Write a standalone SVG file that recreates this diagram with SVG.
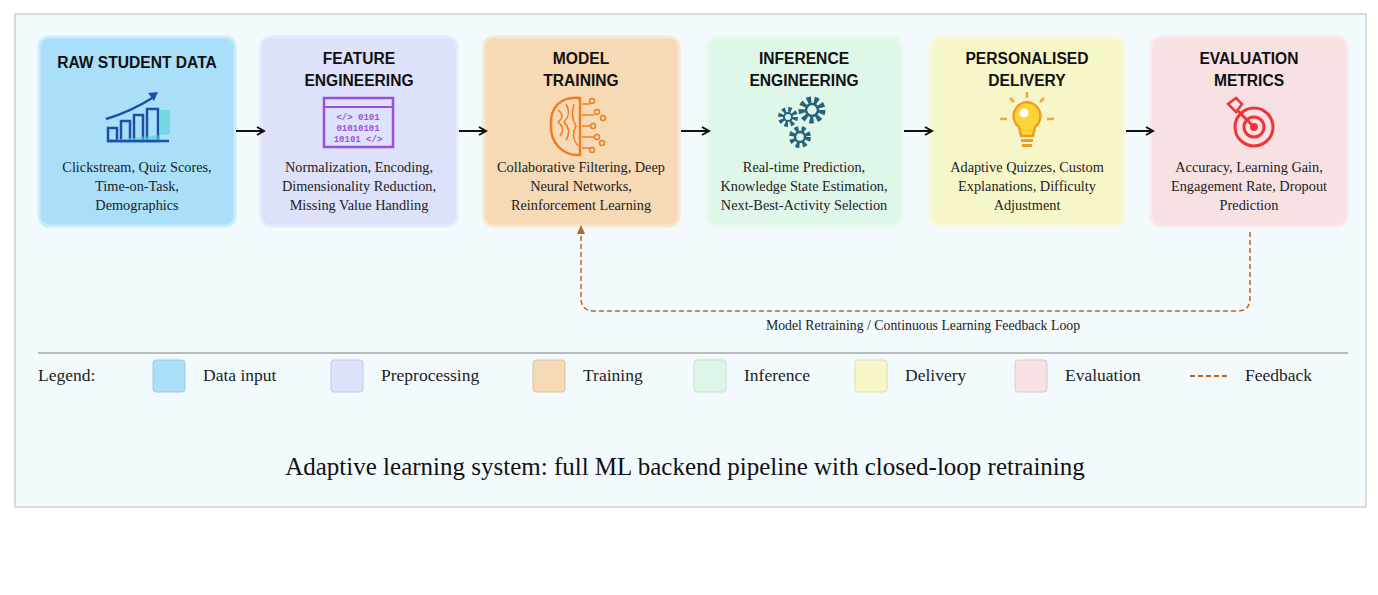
<svg xmlns="http://www.w3.org/2000/svg" width="1378" height="595" viewBox="0 0 1378 595">
<defs>
<style>
.t{font-family:"Liberation Sans",Arial,sans-serif;font-weight:bold;font-size:15.6px;fill:#111;text-anchor:middle}
.d{font-family:"Liberation Serif","Times New Roman",serif;font-size:14.3px;fill:#222;text-anchor:middle}
.lg{font-family:"Liberation Serif","Times New Roman",serif;font-size:17.5px;fill:#222}
.box{stroke-width:3;rx:10}
.ar{stroke:#111;stroke-width:2;fill:none;marker-end:url(#ah)}
</style>
<marker id="ah" markerWidth="10" markerHeight="10" refX="8" refY="5" orient="auto" markerUnits="userSpaceOnUse"><path d="M1,1 L8,5 L1,9" fill="none" stroke="#111" stroke-width="2"/></marker>
<marker id="ao" markerWidth="10" markerHeight="10" refX="5" refY="5" orient="auto" markerUnits="userSpaceOnUse"><path d="M0,1 L9,5 L0,9 Z" fill="#c0651a"/></marker>
</defs>
<rect x="0" y="0" width="1378" height="595" fill="#fff"/>
<rect x="15" y="14" width="1351" height="493" fill="#f3fafd" stroke="#cfcfcf" stroke-width="1.5"/>

<g id="n1"><rect class="box" x="39" y="37" width="196" height="189" fill="#a9dff9" stroke="#c9ecfa"/>
<text class="t" x="137" y="68">RAW STUDENT DATA</text>
<g fill="none" stroke="#1c4fa6" stroke-width="2.5"><path d="M107,141 h62" /><rect x="108" y="128" width="9" height="13"/><rect x="121" y="121" width="9" height="20"/><rect x="134" y="115" width="9" height="26"/><rect x="147" y="109" width="11" height="32"/><path d="M106,119 Q130,112 154,97"/></g>
<polygon points="148,93 158,92 154,101" fill="#1c4fa6"/>
<path d="M111,140 L170,134 L170,110 L160,110 L160,140 Z" fill="#4fd3d0" opacity="0.6"/>
<text class="d" x="137" y="172">Clickstream, Quiz Scores,</text><text class="d" x="137" y="191">Time-on-Task,</text><text class="d" x="137" y="210">Demographics</text></g>

<g id="n2"><rect class="box" x="261" y="37" width="196" height="189" fill="#dde2fa" stroke="#e7e9fb"/>
<text class="t" x="359" y="64">FEATURE</text><text class="t" x="359" y="86">ENGINEERING</text>
<rect x="324" y="98" width="69" height="49" fill="none" stroke="#9b4fe0" stroke-width="2.5"/><line x1="324" y1="107" x2="393" y2="107" stroke="#9b4fe0" stroke-width="2"/>
<g font-family="Liberation Mono,monospace" font-weight="bold" font-size="9px" fill="#9b4fe0" text-anchor="middle"><text x="358" y="120">&lt;/&gt; 0101</text><text x="358" y="131">01010101</text><text x="358" y="142">10101 &lt;/&gt;</text></g>
<text class="d" x="359" y="172">Normalization, Encoding,</text><text class="d" x="359" y="191">Dimensionality Reduction,</text><text class="d" x="359" y="210">Missing Value Handling</text></g>

<g id="n3"><rect class="box" x="484" y="37" width="195" height="189" fill="#f6d9b5" stroke="#f8e6cf"/>
<text class="t" x="581" y="64">MODEL</text><text class="t" x="581" y="86">TRAINING</text>
<path d="M580,98 C560,96 550,108 551,125 C550,142 562,156 580,155 Z" fill="none" stroke="#f07e20" stroke-width="2.5"/>
<path d="M558,110 q8,6 0,12 q8,6 2,14 M566,104 q6,10 -2,18 q8,8 2,18 M574,104 q-4,12 2,22 q-6,10 2,20" fill="none" stroke="#f07e20" stroke-width="1.5"/>
<g stroke="#f07e20" stroke-width="1.5" fill="none"><path d="M582,104 h8 M582,115 h12 M582,126 h8 M582,137 h12 M582,148 h8"/><circle cx="592" cy="101" r="2.5"/><circle cx="597" cy="112" r="2.5"/><circle cx="593" cy="126" r="2.5"/><circle cx="597" cy="137" r="2.5"/><circle cx="592" cy="150" r="2.5"/><circle cx="603" cy="118" r="2.5"/><circle cx="602" cy="143" r="2.5"/></g>
<text class="d" x="581" y="172">Collaborative Filtering, Deep</text><text class="d" x="581" y="191">Neural Networks,</text><text class="d" x="581" y="210">Reinforcement Learning</text></g>

<g id="n4"><rect class="box" x="707" y="37" width="195" height="189" fill="#dff7e9" stroke="#e9f9ef"/>
<text class="t" x="804" y="64">INFERENCE</text><text class="t" x="804" y="86">ENGINEERING</text>
<g fill="none" stroke="#27637b"><circle cx="788" cy="117" r="7" stroke-width="6" stroke-dasharray="3 2.5"/><circle cx="788" cy="117" r="4" stroke-width="2"/><circle cx="812" cy="110" r="10" stroke-width="7" stroke-dasharray="4 3"/><circle cx="812" cy="110" r="6" stroke-width="2.5"/><circle cx="800" cy="137" r="8" stroke-width="6" stroke-dasharray="3.5 3"/><circle cx="800" cy="137" r="5" stroke-width="2.5"/></g>
<text class="d" x="804" y="172">Real-time Prediction,</text><text class="d" x="804" y="191">Knowledge State Estimation,</text><text class="d" x="804" y="210">Next-Best-Activity Selection</text></g>

<g id="n5"><rect class="box" x="930" y="37" width="194" height="189" fill="#f7f6c9" stroke="#f9f8dd"/>
<text class="t" x="1027" y="64">PERSONALISED</text><text class="t" x="1027" y="86">DELIVERY</text>
<g stroke="#f7a23b" stroke-width="2.5"><line x1="1027" y1="92" x2="1027" y2="98"/><line x1="1010" y1="98" x2="1014" y2="102"/><line x1="1044" y1="98" x2="1040" y2="102"/><line x1="1000" y1="119" x2="1007" y2="119"/><line x1="1047" y1="119" x2="1054" y2="119"/></g>
<path d="M1027,102 a14,14 0 0 1 8,25 l-2,9 h-12 l-2,-9 a14,14 0 0 1 8,-25 z" fill="#fbd43a" stroke="#f39a1f" stroke-width="2.5"/>
<circle cx="1024" cy="113" r="4.5" fill="#fff"/>
<rect x="1021" y="139" width="12" height="3" fill="#f39a1f"/><rect x="1022" y="144" width="10" height="3" fill="#f39a1f"/>
<text class="d" x="1027" y="172">Adaptive Quizzes, Custom</text><text class="d" x="1027" y="191">Explanations, Difficulty</text><text class="d" x="1027" y="210">Adjustment</text></g>

<g id="n6"><rect class="box" x="1151" y="37" width="196" height="189" fill="#f8e1e3" stroke="#fae9ea"/>
<text class="t" x="1249" y="64">EVALUATION</text><text class="t" x="1249" y="86">METRICS</text>
<g fill="none" stroke="#ef3636" stroke-width="3"><circle cx="1254" cy="127" r="19"/><circle cx="1254" cy="127" r="10"/></g>
<circle cx="1254" cy="127" r="4" fill="#ef3636"/>
<line x1="1237" y1="110" x2="1253" y2="126" stroke="#ef3636" stroke-width="3"/>
<path d="M1228,104 l8,-6 l6,6 l-6,8 z" fill="none" stroke="#ef3636" stroke-width="2.5"/>
<text class="d" x="1249" y="172">Accuracy, Learning Gain,</text><text class="d" x="1249" y="191">Engagement Rate, Dropout</text><text class="d" x="1249" y="210">Prediction</text></g>

<g id="connectors">
<line class="ar" x1="236" y1="131" x2="264" y2="131"/>
<line class="ar" x1="459" y1="131" x2="486" y2="131"/>
<line class="ar" x1="681" y1="131" x2="709" y2="131"/>
<line class="ar" x1="904" y1="131" x2="932" y2="131"/>
<line class="ar" x1="1126" y1="131" x2="1153" y2="131"/>
<path d="M1250,232 V298 Q1250,311 1237,311 H594 Q581,311 581,298 V229" fill="none" stroke="#c0651a" stroke-width="1.5" stroke-dasharray="5 3" marker-end="url(#ao)"/>
<text x="923" y="330" font-family="Liberation Serif,serif" font-size="13.8px" fill="#222" text-anchor="middle">Model Retraining / Continuous Learning Feedback Loop</text>
</g>

<g id="legend">
<line x1="38" y1="353" x2="1348" y2="353" stroke="#bbb" stroke-width="2"/>
<text class="lg" x="38" y="381">Legend:</text>
<rect x="153" y="360" width="32" height="32" rx="3" fill="#a9dff9" stroke="#9bc9dd"/><text class="lg" x="203" y="381">Data input</text>
<rect x="331" y="360" width="32" height="32" rx="3" fill="#dde2fa" stroke="#c5c9e0"/><text class="lg" x="381" y="381">Preprocessing</text>
<rect x="533" y="360" width="32" height="32" rx="3" fill="#f6d9b5" stroke="#dcc3a2"/><text class="lg" x="583" y="381">Training</text>
<rect x="694" y="360" width="32" height="32" rx="3" fill="#dff7e9" stroke="#c7ddd0"/><text class="lg" x="744" y="381">Inference</text>
<rect x="855" y="360" width="32" height="32" rx="3" fill="#f7f6c9" stroke="#ddddb4"/><text class="lg" x="905" y="381">Delivery</text>
<rect x="1015" y="360" width="32" height="32" rx="3" fill="#f8e1e3" stroke="#dec9cb"/><text class="lg" x="1065" y="381">Evaluation</text>
<line x1="1190" y1="376" x2="1228" y2="376" stroke="#c0651a" stroke-width="2" stroke-dasharray="5 3"/><text class="lg" x="1245" y="381">Feedback</text>
</g>
<text x="685" y="475" font-family="Liberation Serif,serif" font-size="25px" fill="#111" text-anchor="middle">Adaptive learning system: full ML backend pipeline with closed-loop retraining</text>
</svg>
